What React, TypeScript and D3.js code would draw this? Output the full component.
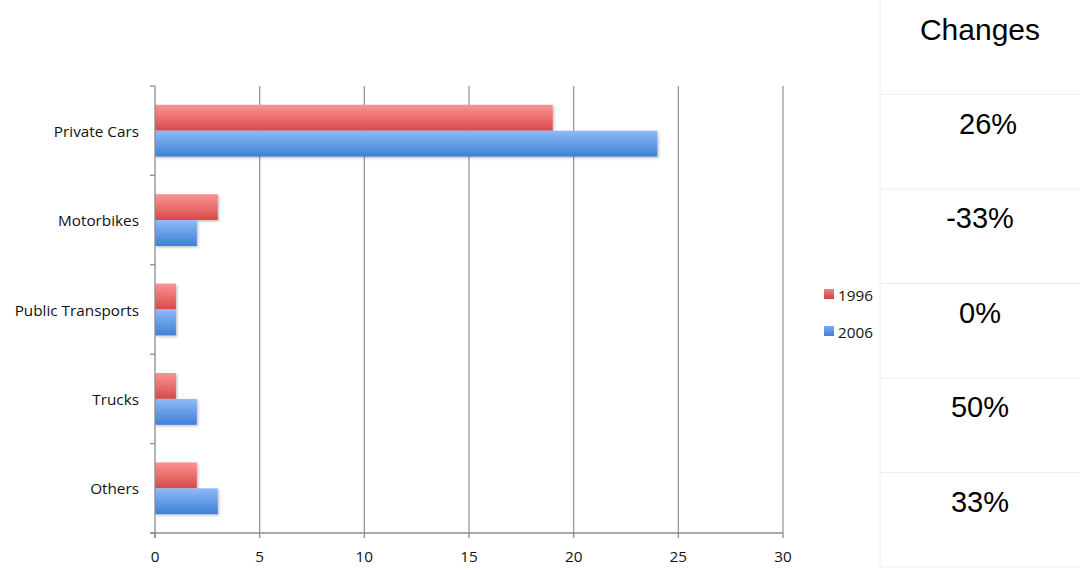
import React from "react";
import * as d3 from "d3";

const categories = ["Private Cars", "Motorbikes", "Public Transports", "Trucks", "Others"];
const values1996 = [19, 3, 1, 1, 2];
const values2006 = [24, 2, 1, 2, 3];
const seriesNames = ["1996", "2006"];
const xTicks = [0, 5, 10, 15, 20, 25, 30];
const tableHeader = "Changes";
const changes = ["\u00A0\u00A026%", "-33%", "0%", "50%", "33%"];

const W = 1080;
const H = 570;
const left = 155;
const right = 783;
const top = 86;
const bottom = 533;

export default function App() {
  const x = d3.scaleLinear().domain([0, 30]).range([left, right]);
  const y = d3.scaleBand<string>().domain(categories).range([top, bottom]).paddingInner(0.42).paddingOuter(0.21);
  const sub = d3.scaleBand<string>().domain(seriesNames).range([0, y.bandwidth()]);
  const series = [
    { name: seriesNames[0], values: values1996, grad: "gRed", legend: "lRed" },
    { name: seriesNames[1], values: values2006, grad: "gBlue", legend: "lBlue" },
  ];
  const step = (bottom - top) / categories.length;
  const catBounds = d3.range(categories.length + 1).map((i) => top + i * step);
  const tableRows = d3.scaleLinear().domain([0, changes.length + 1]).range([0, 567]);
  const font = "'Open Sans', sans-serif";
  const fs = 15.3;
  return (
    <svg width={W} height={H} style={{ position: "absolute", left: 0, top: 0, background: "#fff" }}>
      <defs>
        <linearGradient id="gRed" x1="0" y1="0" x2="0" y2="1">
          <stop offset="0" stopColor="#fb9393" />
          <stop offset="1" stopColor="#d84a48" />
        </linearGradient>
        <linearGradient id="gBlue" x1="0" y1="0" x2="0" y2="1">
          <stop offset="0" stopColor="#8fbaf7" />
          <stop offset="1" stopColor="#3f80d6" />
        </linearGradient>
        <linearGradient id="lRed" x1="0" y1="0" x2="0" y2="1">
          <stop offset="0" stopColor="#f08080" />
          <stop offset="1" stopColor="#d04545" />
        </linearGradient>
        <linearGradient id="lBlue" x1="0" y1="0" x2="0" y2="1">
          <stop offset="0" stopColor="#7aaaf0" />
          <stop offset="1" stopColor="#3f80d6" />
        </linearGradient>
        <filter id="shadow" x="-10%" y="-20%" width="130%" height="160%">
          <feDropShadow dx="1.5" dy="1.5" stdDeviation="1.2" floodColor="#000" floodOpacity="0.22" />
        </filter>
      </defs>

      {/* gridlines */}
      {xTicks.slice(1).map((t) => (
        <line key={"g" + t} x1={x(t)} x2={x(t)} y1={top} y2={bottom} stroke="#8f8f8f" strokeWidth={1.2} />
      ))}

      {/* bars */}
      {series.map((s) =>
        categories.map((c, i) => (
          <rect
            key={s.name + c}
            x={x(0)}
            y={(y(c) as number) + (sub(s.name) as number)}
            width={x(s.values[i]) - x(0)}
            height={sub.bandwidth()}
            fill={`url(#${s.grad})`}
            filter="url(#shadow)"
          />
        ))
      )}

      {/* axes */}
      <line x1={left} x2={left} y1={top} y2={bottom + 5} stroke="#8c8c8c" strokeWidth={1.3} />
      <line x1={left - 5} x2={right} y1={bottom} y2={bottom} stroke="#8c8c8c" strokeWidth={1.3} />
      {catBounds.map((b, i) => (
        <line key={"yt" + i} x1={left - 5} x2={left} y1={b} y2={b} stroke="#8c8c8c" strokeWidth={1.3} />
      ))}
      {xTicks.map((t) => (
        <g key={"xt" + t}>
          <line x1={x(t)} x2={x(t)} y1={bottom} y2={bottom + 5} stroke="#8c8c8c" strokeWidth={1.3} />
          <text x={x(t)} y={562} textAnchor="middle" fontFamily={font} fontSize={fs} fill="#111">
            {t}
          </text>
        </g>
      ))}
      {categories.map((c) => (
        <text
          key={"cl" + c}
          x={139}
          y={(y(c) as number) + y.bandwidth() / 2 + 6}
          textAnchor="end"
          fontFamily={font}
          fontSize={fs}
          fill="#111"
        >
          {c}
        </text>
      ))}

      {/* legend */}
      {series.map((s, i) => (
        <g key={"lg" + s.name}>
          <rect x={824} y={289 + i * 37} width={10} height={10} fill={`url(#${s.legend})`} />
          <text x={838} y={301 + i * 37} fontFamily={font} fontSize={fs} fill="#111">
            {s.name}
          </text>
        </g>
      ))}

      {/* table */}
      <line x1={880} x2={880} y1={0} y2={567} stroke="#eeeeee" strokeWidth={1} />
      <line x1={880} x2={1080} y1={567} y2={567} stroke="#eeeeee" strokeWidth={1} />
      {d3.range(1, changes.length + 1).map((r) => (
        <line key={"tr" + r} x1={880} x2={1080} y1={tableRows(r)} y2={tableRows(r)} stroke="#eeeeee" strokeWidth={1} />
      ))}
      <text x={980} y={40} textAnchor="middle" fontFamily="'Liberation Sans', Arial, sans-serif" fontSize={30} fill="#000">
        {tableHeader}
      </text>
      {changes.map((c, i) => (
        <text
          key={"ch" + i}
          x={980}
          y={tableRows(i + 1) + 39}
          textAnchor="middle"
          fontFamily="'Liberation Sans', Arial, sans-serif"
          fontSize={29}
          fill="#000"
          style={{ whiteSpace: "pre" }}
        >
          {c}
        </text>
      ))}
    </svg>
  );
}
